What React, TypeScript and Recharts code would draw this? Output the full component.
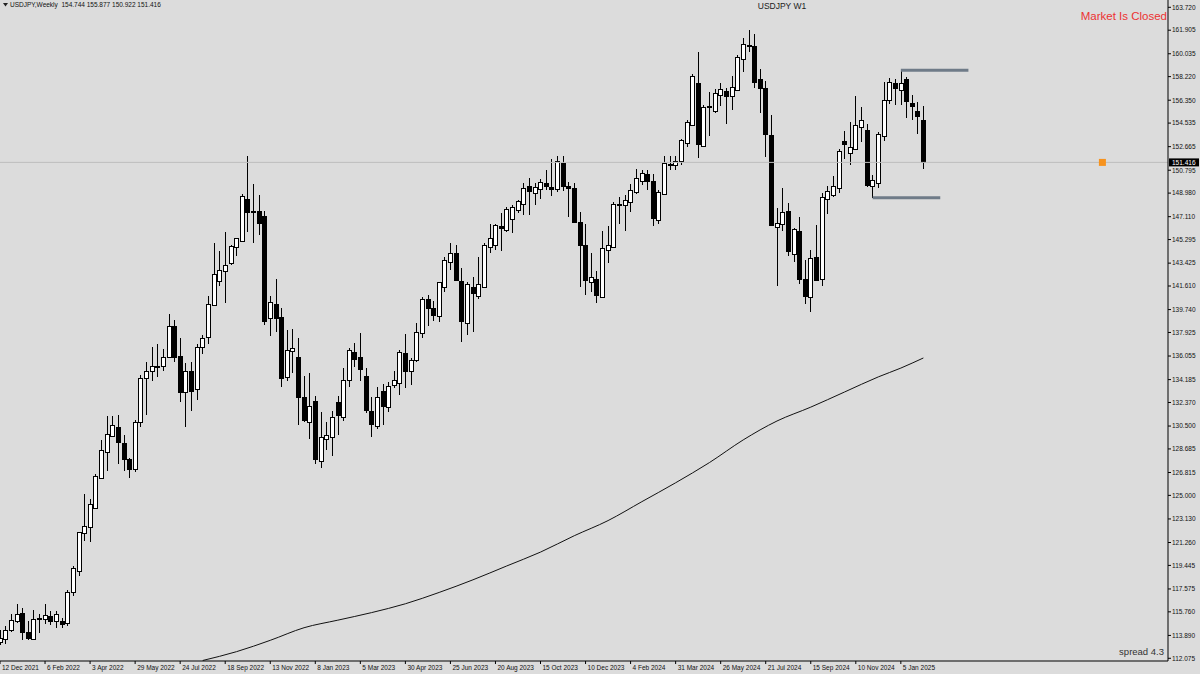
import { ComposedChart, Bar, Line, XAxis, YAxis, ReferenceLine, ReferenceDot } from 'recharts'

// weekly candles, first bar = week of 12 Dec 2021
const opens = [
  113.4, 113.6, 114.35, 115.05, 115.7, 114.15, 113.6, 115.25, 115.2, 115.4,
  115.0, 115.0, 114.85, 117.3, 119.0, 122.05, 122.5, 124.0, 126.4, 128.45,
  129.7, 130.4, 129.15, 127.85, 127.1, 130.85, 134.3, 134.9, 135.2, 135.3,
  136.0, 138.4, 136.05, 133.2, 134.9, 133.4, 136.8, 137.55, 140.1, 142.0,
  142.8, 143.45, 144.7, 145.2, 148.5, 147.6, 147.6, 147.15, 139.1, 140.2,
  139.15, 134.4, 136.45, 136.0, 132.8, 130.85, 132.5, 127.7, 129.45, 129.6,
  132.4, 131.25, 134.15, 136.4, 136.0, 134.5, 131.7, 130.5, 133.3, 132.0,
  133.75, 133.9, 136.3, 134.85, 135.7, 137.9, 140.55, 139.9, 139.25, 141.55,
  143.55, 144.25, 142.0, 138.65, 141.55, 140.85, 141.55, 144.7, 144.9, 146.35,
  146.05, 146.9, 147.65, 148.15, 149.55, 148.95, 149.3, 149.75, 149.5, 149.3,
  151.4, 149.55, 149.35, 146.7, 144.85, 141.95, 142.2, 140.75, 144.45, 144.7,
  148.1, 148.05, 148.3, 149.1, 149.95, 150.5, 149.95, 146.85, 148.9, 151.3,
  151.2, 151.5, 152.95, 154.4, 157.7, 152.7, 155.85, 155.5, 156.75, 157.1,
  156.7, 157.15, 159.6, 160.65, 160.65, 158.0, 157.3, 153.6, 146.3, 146.5,
  147.6, 144.15, 146.0, 142.2, 140.7, 143.9, 142.2, 148.55, 148.8, 149.35,
  153.1, 152.2, 152.5, 154.2, 154.0, 149.55, 149.8, 153.5, 156.35, 157.7,
  157.15, 158.05, 156.15, 155.5, 154.744,
]
const highs = [
  114.3, 114.6, 115.6, 116.35, 116.1, 115.0, 115.9, 115.6, 116.4, 115.8,
  115.8, 115.3, 117.5, 119.4, 122.1, 125.1, 124.7, 126.7, 129.4, 131.3,
  131.3, 131.35, 129.8, 128.0, 130.95, 134.55, 135.6, 136.8, 137.0, 136.6,
  139.4, 138.9, 137.5, 135.5, 135.6, 137.0, 137.7, 140.8, 145.0, 144.4,
  145.9, 144.9, 145.45, 148.9, 151.94, 149.7, 148.85, 147.6, 140.8, 142.2,
  139.9, 138.1, 138.2, 137.5, 134.5, 134.7, 132.9, 131.6, 130.8, 131.7,
  132.9, 135.1, 136.7, 137.1, 137.9, 135.1, 132.8, 133.6, 133.8, 134.0,
  134.9, 136.55, 137.8, 135.9, 138.7, 140.75, 140.9, 140.45, 141.95, 143.9,
  145.05, 144.9, 143.0, 141.95, 142.3, 143.9, 145.0, 146.5, 146.55, 147.4,
  147.85, 148.0, 148.45, 149.75, 150.15, 149.8, 150.1, 150.8, 151.7, 151.9,
  151.9, 149.9, 149.8, 147.5, 146.5, 144.2, 142.8, 146.0, 146.4, 148.3,
  148.7, 148.8, 149.7, 150.9, 150.85, 150.85, 150.5, 149.2, 151.95, 151.95,
  151.95, 153.25, 154.75, 158.45, 160.2, 156.0, 157.0, 157.2, 157.75, 157.35,
  158.25, 159.9, 161.3, 161.95, 161.6, 158.8, 157.9, 155.2, 147.8, 149.4,
  148.2, 146.25, 147.1, 143.7, 144.45, 146.45, 148.95, 149.55, 150.3, 152.5,
  153.9, 154.65, 156.7, 155.85, 154.5, 150.4, 153.85, 157.8, 158.1, 158.0,
  158.8, 158.2, 156.8, 156.2, 155.877,
]
const lows = [
  113.1, 113.2, 114.2, 114.9, 113.5, 113.5, 113.5, 114.1, 114.8, 114.7,
  114.5, 114.5, 114.6, 117.0, 118.6, 121.4, 121.3, 123.9, 126.3, 126.9,
  129.6, 127.5, 126.95, 126.35, 126.85, 130.4, 131.4, 134.1, 134.4, 134.9,
  135.95, 135.6, 132.4, 130.4, 131.7, 132.55, 136.2, 137.0, 140.0, 141.6,
  140.3, 143.3, 144.0, 145.1, 145.9, 145.0, 145.65, 138.5, 137.65, 138.0,
  133.6, 134.1, 134.7, 130.6, 130.8, 129.5, 127.5, 127.2, 128.6, 128.1,
  129.8, 130.9, 133.6, 135.2, 134.1, 131.5, 129.6, 130.3, 130.6, 131.6,
  133.5, 133.0, 133.5, 133.75, 135.6, 137.5, 138.4, 138.8, 138.75, 141.15,
  142.9, 142.0, 137.2, 137.7, 138.0, 140.6, 141.5, 144.2, 144.5, 144.4,
  145.9, 145.85, 147.4, 147.25, 147.25, 148.0, 148.5, 149.2, 148.75, 149.1,
  149.15, 147.1, 146.6, 141.55, 140.9, 141.15, 140.25, 140.7, 143.4, 144.6,
  146.5, 146.0, 147.5, 148.9, 149.6, 149.2, 146.35, 146.5, 148.8, 150.8,
  150.8, 151.2, 152.6, 154.3, 151.8, 152.6, 153.5, 155.3, 155.9, 154.5,
  155.6, 157.1, 158.6, 160.2, 157.3, 155.3, 151.85, 146.4, 141.6, 146.0,
  144.0, 143.5, 141.8, 140.2, 139.55, 142.0, 141.6, 147.3, 148.7, 149.0,
  151.7, 151.2, 152.4, 153.0, 149.5, 148.6, 149.4, 153.1, 156.05, 156.0,
  156.0, 154.9, 154.8, 153.65, 150.922,
]
const closes = [
  113.7, 114.35, 115.1, 115.6, 114.2, 113.7, 115.2, 115.3, 115.5, 115.0,
  115.6, 114.8, 117.35, 119.2, 122.1, 122.55, 124.3, 126.5, 128.6, 129.85,
  130.55, 129.2, 127.9, 127.1, 130.85, 134.35, 134.9, 135.25, 135.3, 136.0,
  138.45, 136.0, 133.2, 134.9, 133.3, 136.8, 137.5, 140.2, 142.55, 142.9,
  143.3, 144.8, 145.4, 148.75, 147.5, 147.45, 146.6, 138.8, 140.35, 139.1,
  134.3, 136.55, 136.7, 132.8, 131.0, 132.1, 127.85, 129.6, 129.8, 131.2,
  131.35, 134.15, 136.5, 135.8, 135.05, 131.8, 130.7, 132.8, 132.1, 133.7,
  134.15, 136.4, 134.85, 135.7, 137.95, 140.55, 139.9, 139.3, 141.9, 143.65,
  144.25, 142.05, 138.8, 141.8, 141.05, 141.75, 144.9, 145.4, 146.45, 146.2,
  147.75, 147.85, 148.35, 149.35, 149.15, 149.5, 149.9, 149.55, 149.3, 151.5,
  149.55, 149.35, 146.7, 144.85, 142.1, 142.35, 140.9, 144.6, 144.85, 148.1,
  148.15, 148.4, 149.2, 150.15, 150.55, 149.95, 147.0, 149.05, 151.4, 151.2,
  151.55, 153.2, 154.65, 158.25, 152.85, 155.8, 155.9, 156.9, 157.2, 156.7,
  157.4, 159.75, 160.8, 160.7, 157.8, 157.3, 153.7, 146.45, 146.6, 147.5,
  144.35, 146.1, 142.2, 140.8, 143.85, 142.1, 148.7, 149.15, 149.55, 152.3,
  152.85, 152.6, 154.4, 154.75, 149.6, 150.0, 153.65, 156.4, 157.8, 157.3,
  157.7, 156.25, 155.9, 155.1, 151.416,
]

// moving average at some weeks
const maWeeks = [36, 42, 48, 54, 60, 66, 72, 78, 84, 90, 96, 102, 108, 114, 120, 126, 132, 138, 144, 150, 156, 160, 164]
const maValues = [111.9, 112.6, 113.5, 114.5, 115.1, 115.7, 116.4, 117.3, 118.3, 119.4, 120.5, 121.8, 123.0, 124.5, 126.0, 127.6, 129.4, 130.9, 132.0, 133.2, 134.4, 135.1, 135.9]

const tickWeeks = [0, 8, 16, 24, 32, 40, 48, 56, 64, 72, 80, 88, 96, 104, 112, 120, 128, 136, 144, 152, 160]
const tickLabels = [
  '12 Dec 2021', '6 Feb 2022', '3 Apr 2022', '29 May 2022', '24 Jul 2022', '18 Sep 2022', '13 Nov 2022',
  '8 Jan 2023', '5 Mar 2023', '30 Apr 2023', '25 Jun 2023', '20 Aug 2023', '15 Oct 2023', '10 Dec 2023',
  '4 Feb 2024', '31 Mar 2024', '26 May 2024', '21 Jul 2024', '15 Sep 2024', '10 Nov 2024', '5 Jan 2025',
]
const priceTicks = [
  163.72, 161.905, 160.035, 158.22, 156.35, 154.535, 152.665, 150.795, 148.98, 147.11,
  145.295, 143.425, 141.61, 139.74, 137.925, 136.055, 134.185, 132.37, 130.5, 128.685,
  126.815, 125.0, 123.13, 121.26, 119.445, 117.575, 115.76, 113.89, 112.075,
]

// range levels drawn as short bars
const rangeHigh = { week: 160, price: 158.72 }
const rangeLow = { week: 155, price: 148.62 }
const rangeLen = 12
const markerWeek = 195.8

const last = opens.length - 1
const lastPrice = closes[last]

const data = opens.map((o, i) => {
  const k = maWeeks.indexOf(i)
  return {
    i,
    open: o,
    high: highs[i],
    low: lows[i],
    close: closes[i],
    range: [lows[i], highs[i]],
    ma: k >= 0 ? maValues[k] : null,
  }
})

const FONT = "'Liberation Sans', Arial, sans-serif"

function Candle(props: any) {
  const { x, y, width, height, payload } = props
  if (!payload || x == null || y == null) return null
  const { open, close, high, low } = payload
  const top = Math.min(y, y + height)
  const h = Math.abs(height)
  const k = high - low > 0 ? h / (high - low) : 0
  const cx = Math.round(x + width / 2) + 0.5
  const yOf = (p: number) => top + (high - p) * k
  const bTop = Math.round(yOf(Math.max(open, close))) + 0.5
  const bBot = Math.round(yOf(Math.min(open, close))) + 0.5
  const up = close >= open
  return (
    <g>
      <line x1={cx} x2={cx} y1={Math.round(top)} y2={Math.round(top + h)} stroke="#000" strokeWidth={1} />
      <rect
        x={cx - 2}
        y={bTop}
        width={4}
        height={Math.max(bBot - bTop, 1)}
        fill={up ? '#fff' : '#000'}
        stroke="#000"
        strokeWidth={1}
        shapeRendering="crispEdges"
      />
    </g>
  )
}

function DateTick({ x, y, payload }: any) {
  const idx = tickWeeks.indexOf(payload.value)
  return (
    <text x={x + 2} y={y + 5.6} fontSize={6.5} fontFamily={FONT} fill="#111">
      {tickLabels[idx]}
    </text>
  )
}

function PriceTick({ x, y, payload }: any) {
  return (
    <text x={x} y={y + 2.3} fontSize={6.5} fontFamily={FONT} fill="#111" textAnchor="start">
      {Number(payload.value).toFixed(3)}
    </text>
  )
}

function PriceTag({ viewBox }: any) {
  if (!viewBox) return null
  const right = viewBox.x + viewBox.width
  return (
    <g>
      <rect x={right + 1} y={viewBox.y - 4} width={30} height={8} fill="#000" />
      <text x={right + 4} y={viewBox.y + 2.3} fontSize={6.5} fontFamily={FONT} fill="#fff">
        {lastPrice.toFixed(3)}
      </text>
    </g>
  )
}

export default function App() {
  return (
    <div style={{ position: 'absolute', left: 0, top: 0, width: 1200, height: 674, background: '#dcdcdc' }}>
      <ComposedChart width={1200} height={674} data={data} margin={{ top: 0, right: 0, bottom: 0, left: 0 }}>
        <XAxis
          type="number"
          dataKey="i"
          domain={[0, 207.45]}
          allowDataOverflow
          ticks={tickWeeks}
          interval={0}
          height={13}
          tickSize={3}
          tickMargin={0}
          tick={<DateTick />}
          axisLine={{ stroke: '#000' }}
          tickLine={{ stroke: '#000' }}
        />
        <YAxis
          orientation="right"
          type="number"
          domain={[111.86, 164.3]}
          allowDataOverflow
          ticks={priceTicks}
          interval={0}
          width={32}
          tickSize={3}
          tickMargin={1}
          tick={<PriceTick />}
          axisLine={{ stroke: '#000' }}
          tickLine={{ stroke: '#000' }}
        />
        <ReferenceLine y={lastPrice} stroke="#bdbdbd" strokeWidth={1} label={<PriceTag />} />
        <Line
          type="monotone"
          dataKey="ma"
          stroke="#111"
          strokeWidth={1}
          dot={false}
          connectNulls
          isAnimationActive={false}
        />
        <Bar dataKey="range" barSize={5} shape={<Candle />} isAnimationActive={false} />
        <ReferenceLine
          segment={[{ x: rangeHigh.week, y: rangeHigh.price }, { x: rangeHigh.week + rangeLen, y: rangeHigh.price }]}
          stroke="#6f7b88"
          strokeWidth={3}
          ifOverflow="visible"
        />
        <ReferenceLine
          segment={[{ x: rangeLow.week, y: rangeLow.price }, { x: rangeLow.week + rangeLen, y: rangeLow.price }]}
          stroke="#6f7b88"
          strokeWidth={3}
          ifOverflow="visible"
        />
        <ReferenceDot
          x={markerWeek}
          y={lastPrice}
          ifOverflow="visible"
          shape={(p: any) => <rect x={p.cx - 3.5} y={p.cy - 3.5} width={7} height={7} fill="#f7931e" />}
        />
      </ComposedChart>
      <svg width={1200} height={674} style={{ position: 'absolute', left: 0, top: 0, pointerEvents: 'none' }}>
        <polygon points="3,3 8,3 5.5,6.5" fill="#222" />
        <text x={10} y={7.3} fontSize={6.5} fontFamily={FONT} fill="#111" style={{ whiteSpace: 'pre' }}>
          {`USDJPY,Weekly  ${opens[last].toFixed(3)} ${highs[last].toFixed(3)} ${lows[last].toFixed(3)} ${closes[last].toFixed(3)}`}
        </text>
        <text x={782} y={9} fontSize={8.5} fontFamily={FONT} fill="#222" textAnchor="middle">
          USDJPY W1
        </text>
        <text x={1167} y={20} fontSize={11.5} fontFamily={FONT} fill="#ec3232" textAnchor="end">
          Market Is Closed
        </text>
        <text x={1164} y={655} fontSize={9.5} fontFamily={FONT} fill="#333" textAnchor="end">
          spread 4.3
        </text>
      </svg>
    </div>
  )
}
